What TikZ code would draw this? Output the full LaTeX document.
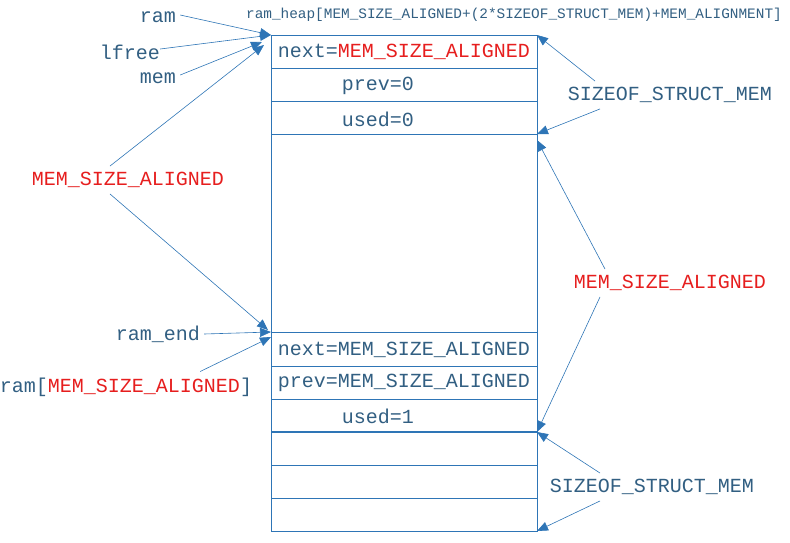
\documentclass[tikz,border=0pt]{standalone}
\usepackage{fontspec}
\setmainfont{Liberation Mono}
\usetikzlibrary{arrows.meta}
\definecolor{ln}{RGB}{46,117,182}
\definecolor{tx}{RGB}{50,95,130}
\definecolor{rd}{RGB}{230,30,30}
\begin{document}
\begin{tikzpicture}[x=1pt,y=-1pt,
  lbl/.style={text=tx,font=\fontsize{20}{21}\selectfont,inner sep=0pt},
  rlbl/.style={lbl,text=rd},
  arr/.style={draw=ln,line width=0.6pt,-{Triangle[length=11pt,width=9pt]}},
  cell/.style={draw=ln,line width=0.7pt}]
\useasboundingbox (0,0) rectangle (790,542);
\draw[cell] (271,35) rectangle (537,531);
\foreach \y in {68,101,134,332,366,399,465,498} \draw[cell] (271,\y) -- (537,\y);
\draw[ln,line width=1.6pt] (271,432) -- (537,432);
\node[lbl,font=\fontsize{14.4}{15}\selectfont] (heap) at (514,15) {ram\_heap[MEM\_SIZE\_ALIGNED+(2*SIZEOF\_STRUCT\_MEM)+MEM\_ALIGNMENT]};
\node[lbl] (n1) at (404,52) {next=\textcolor{rd}{MEM\_SIZE\_ALIGNED}};
\node[lbl] (p1) at (378,86) {prev=0};
\node[lbl] (u1) at (378,119) {used=0};
\node[lbl] (n2) at (404,350) {next=MEM\_SIZE\_ALIGNED};
\node[lbl] (p2) at (404,383) {prev=MEM\_SIZE\_ALIGNED};
\node[lbl] (u2) at (378,416) {used=1};
\coordinate (top) at (271,35);
\coordinate (topr) at (537,35);
\coordinate (hdr) at (537,134);
\coordinate (mid) at (271,332);
\coordinate (usedr) at (537,432);
\coordinate (bot) at (537,531);
\node[lbl] (ram) at (158,17) {ram};
\node[lbl] (lfree) at (130,52) {lfree};
\node[lbl] (mem) at (158,78) {mem};
\node[rlbl] (msa) at (128,180) {MEM\_SIZE\_ALIGNED};
\node[lbl] (rend) at (158,334) {ram\_end};
\node[lbl] (rarr) at (126,387) {ram[\textcolor{rd}{MEM\_SIZE\_ALIGNED}]};
\node[lbl] (s1) at (670,95) {SIZEOF\_STRUCT\_MEM};
\node[rlbl] (msa2) at (670,283) {MEM\_SIZE\_ALIGNED};
\node[lbl] (s2) at (652,487) {SIZEOF\_STRUCT\_MEM};
\draw[arr] (ram.east) ++(4,-2) -- (top);
\draw[arr] (lfree.east) ++(0,-3) -- (top);
\draw[arr] (mem.east) ++(4,-3) -- (262,42);
\draw[arr] (msa.north) ++(-18,-6) -- (264,45);
\draw[arr] (msa.south) ++(-18,6) -- (268,330);
\draw[arr] (rend.east) ++(4,0) -- (mid);
\draw[arr] (rarr.north east) ++(-52,-6) -- (271,337);
\draw[arr] (s1.north) ++(-75,-6) -- (topr);
\draw[arr] (s1.south) ++(-70,6) -- (hdr);
\draw[arr] (msa2.north) ++(-65,-6) -- (537,140);
\draw[arr] (msa2.south) ++(-70,6) -- (usedr);
\draw[arr] (s2.north) ++(-52,-6) -- (usedr);
\draw[arr] (s2.south) ++(-52,6) -- (bot);
\end{tikzpicture}
\end{document}
